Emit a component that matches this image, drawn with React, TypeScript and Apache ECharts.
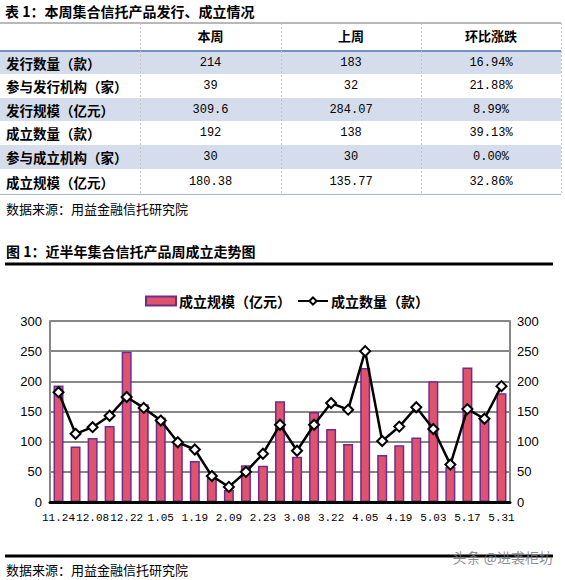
import React, { useEffect, useRef } from 'react';
import * as echarts from 'echarts';

// ---------- data ----------
const categories = ['11.24', '12.01', '12.08', '12.15', '12.22', '12.29', '1.05', '1.12', '1.19', '2.02', '2.09', '2.16', '2.23', '3.01', '3.08', '3.15', '3.22', '3.29', '4.05', '4.12', '4.19', '4.26', '5.03', '5.10', '5.17', '5.24', '5.31'];
const scaleValues = [193, 92, 106, 126, 249, 162, 140, 98, 68, 40, 20, 61, 60, 167, 75, 149, 121, 96, 222, 78, 94, 107, 200, 58, 223, 135.77, 180.38];
const countValues = [182, 113, 124, 143, 174, 156, 135, 99, 87, 43, 25, 50, 80, 128, 85, 128, 164, 153, 250, 101, 125, 157, 121, 62, 154, 138, 192];
const legendNames = ['成立规模（亿元）', '成立数量（款）'];

const tableTitle = '表 1：本周集合信托产品发行、成立情况';
const tableHeaders = ['本周', '上周', '环比涨跌'];
const rowLabels = ['发行数量（款）', '参与发行机构（家）', '发行规模（亿元）', '成立数量（款）', '参与成立机构（家）', '成立规模（亿元）'];
const thisWeek = ['214', '39', '309.6', '192', '30', '180.38'];
const lastWeek = ['183', '32', '284.07', '138', '30', '135.77'];
const weekChange = ['16.94%', '21.88%', '8.99%', '39.13%', '0.00%', '32.86%'];
const sourceText = '数据来源：用益金融信托研究院';
const chartTitle = '图 1：近半年集合信托产品周成立走势图';
const watermark = '头条 @进裘柜坊';

const CJK = '"Noto Sans CJK SC", sans-serif';
const MONO = '"Liberation Mono", monospace';

function txt(text: string, x: number, y: number, size: number, opts: any = {}) {
  const align = opts.align || 'left';
  return {
    type: 'text',
    x,
    y,
    silent: true,
    z: 10,
    style: {
      text,
      fontSize: size,
      fontFamily: opts.family || CJK,
      fontWeight: opts.bold ? 'bold' : 'normal',
      fill: opts.fill || '#000',
      align,
      textAlign: align,
      verticalAlign: 'middle',
      textVerticalAlign: 'middle',
      opacity: opts.opacity == null ? 1 : opts.opacity,
    },
  };
}

function buildGraphics() {
  const g: any[] = [];
  const colEdges = [0, 140, 281, 421, 561];
  const rowEdges = [51, 74, 98, 121, 145, 169, 194];
  const colCenter = (i: number) => (colEdges[i] + colEdges[i + 1]) / 2;

  for (let r = 0; r < rowLabels.length; r++) {
    if (r % 2 === 0) {
      g.push({
        type: 'rect', silent: true, z: 1,
        shape: { x: 0, y: rowEdges[r], width: 561, height: rowEdges[r + 1] - rowEdges[r] },
        style: { fill: '#D5DDEC' },
      });
    }
  }
  g.push({ type: 'line', silent: true, z: 3, shape: { x1: 0, y1: 23, x2: 561, y2: 23 }, style: { stroke: '#A0A0A0', lineWidth: 1.5 } });
  g.push({ type: 'line', silent: true, z: 3, shape: { x1: 0, y1: 51, x2: 561, y2: 51 }, style: { stroke: '#7890C0', lineWidth: 2 } });
  g.push({ type: 'line', silent: true, z: 3, shape: { x1: 0, y1: 194.5, x2: 561, y2: 194.5 }, style: { stroke: '#A8B6CC', lineWidth: 1 } });
  for (let c = 1; c < colEdges.length; c++) {
    g.push({ type: 'line', silent: true, z: 3, shape: { x1: colEdges[c] + 0.5, y1: 23, x2: colEdges[c] + 0.5, y2: 194 }, style: { stroke: '#C4C4C4', lineWidth: 1, lineDash: [2, 2] } });
  }
  g.push(txt(tableTitle, 5, 11, 14, { bold: true }));
  tableHeaders.forEach((h, i) => g.push(txt(h, colCenter(i + 1), 35, 13, { bold: true, align: 'center' })));
  rowLabels.forEach((lab, r) => {
    const cy = (rowEdges[r] + rowEdges[r + 1]) / 2;
    g.push(txt(lab, 6, cy, 13.5, { bold: true }));
    g.push(txt(thisWeek[r], colCenter(1), cy, 12, { family: MONO, align: 'center' }));
    g.push(txt(lastWeek[r], colCenter(2), cy, 12, { family: MONO, align: 'center' }));
    g.push(txt(weekChange[r], colCenter(3), cy, 12, { family: MONO, align: 'center' }));
  });
  g.push(txt(sourceText, 6, 208, 13));
  g.push(txt(chartTitle, 6, 251, 14, { bold: true }));
  g.push({ type: 'line', silent: true, z: 3, shape: { x1: 5, y1: 264, x2: 553, y2: 264 }, style: { stroke: '#000', lineWidth: 3 } });
  g.push({ type: 'line', silent: true, z: 3, shape: { x1: 5, y1: 556, x2: 553, y2: 556 }, style: { stroke: '#000', lineWidth: 3 } });
  g.push(txt(sourceText, 6, 569, 13));
  g.push(txt(watermark, 553, 557, 14, { align: 'right', fill: '#777', opacity: 0.85 }));
  return g;
}

export default function App() {
  const ref = useRef<HTMLDivElement>(null);
  useEffect(() => {
    if (!ref.current) return;
    const chart = echarts.init(ref.current, undefined, { renderer: 'svg' });
    const axisLabelY = { color: '#000', fontSize: 13, fontFamily: '"Liberation Sans", Arial, sans-serif' };
    chart.setOption({
      animation: false,
      backgroundColor: '#fff',
      graphic: buildGraphics(),
      legend: {
        left: 140,
        top: 289,
        itemWidth: 30,
        itemHeight: 9,
        itemGap: 6,
        textStyle: { color: '#000', fontSize: 14, fontWeight: 'bold', fontFamily: CJK, padding: [0, 0, 0, -2] },
        data: [
          { name: legendNames[0], icon: 'rect' },
          { name: legendNames[1] },
        ],
      },
      grid: { left: 50, right: 55, top: 321, bottom: 78, containLabel: false },
      xAxis: {
        type: 'category',
        data: categories,
        boundaryGap: true,
        axisLine: { lineStyle: { color: '#000', width: 3 } },
        axisTick: { show: false },
        axisLabel: { interval: 1, color: '#000', fontSize: 11, fontFamily: MONO, margin: 10 },
        z: 5,
      },
      yAxis: [
        {
          type: 'value', min: 0, max: 300, interval: 50, position: 'left',
          axisLine: { show: true, lineStyle: { color: '#878787', width: 2 } },
          axisTick: { show: false },
          splitLine: { show: true, lineStyle: { color: '#878787', width: 2 } },
          axisLabel: { ...axisLabelY, margin: 8 },
        },
        {
          type: 'value', min: 0, max: 300, interval: 50, position: 'right',
          axisLine: { show: true, lineStyle: { color: '#878787', width: 2 } },
          axisTick: { show: false },
          splitLine: { show: false },
          axisLabel: { ...axisLabelY, margin: 7 },
        },
      ],
      series: [
        {
          name: legendNames[0],
          type: 'bar',
          yAxisIndex: 0,
          data: scaleValues,
          barWidth: 10,
          itemStyle: { color: '#E0536F', borderColor: '#702C8C', borderWidth: 1.5 },
        },
        {
          name: legendNames[1],
          type: 'line',
          yAxisIndex: 1,
          data: countValues,
          symbol: 'diamond',
          symbolSize: 10,
          lineStyle: { color: '#000', width: 2.5 },
          itemStyle: { color: '#fff', borderColor: '#000', borderWidth: 2 },
          z: 4,
        },
      ],
    });
    return () => chart.dispose();
  }, []);
  return <div ref={ref} style={{ position: 'absolute', left: 0, top: 0, width: 565, height: 580, background: '#fff' }} />;
}
